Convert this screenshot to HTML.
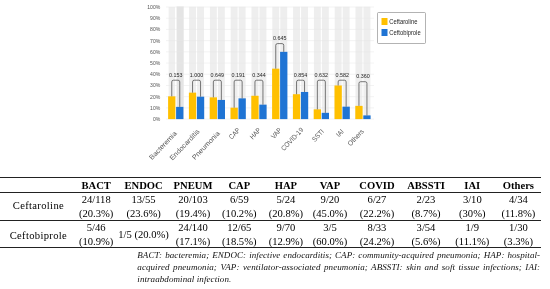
<!DOCTYPE html>
<html><head><meta charset="utf-8"><title>Figure</title>
<style>
html,body{margin:0;padding:0;background:#fff;}
body{width:550px;height:289px;position:relative;overflow:hidden;font-family:"Liberation Serif",serif;color:#000;}
.c{position:absolute;width:80px;height:14px;line-height:14px;text-align:center;font-size:10.6px;white-space:nowrap;}
.b{font-weight:bold;}
.hr{position:absolute;left:0;width:541px;background:#222;}
.rl{letter-spacing:0.33px;}
.fn{position:absolute;left:137.3px;width:402.9px;letter-spacing:0.08px;height:11.6px;font-size:9px;line-height:11.6px;font-style:italic;text-align:justify;text-align-last:justify;white-space:nowrap;color:#111;}
</style></head><body>
<svg width="550" height="175" viewBox="0 0 550 175" style="position:absolute;left:0;top:0" font-family="'Liberation Sans', sans-serif"><rect x="168.60" y="7.10" width="6.4" height="112.00" fill="#efefef"/><rect x="176.60" y="6.40" width="7.1" height="112.70" fill="#e4e4e4"/><rect x="189.10" y="6.80" width="6.9" height="112.30" fill="#eeeeee"/><rect x="197.10" y="6.80" width="6.9" height="112.30" fill="#eeeeee"/><rect x="209.90" y="6.80" width="6.9" height="112.30" fill="#eeeeee"/><rect x="217.90" y="6.80" width="6.9" height="112.30" fill="#eeeeee"/><rect x="230.70" y="6.80" width="6.9" height="112.30" fill="#eeeeee"/><rect x="238.70" y="6.80" width="6.9" height="112.30" fill="#eeeeee"/><rect x="251.50" y="6.80" width="6.9" height="112.30" fill="#eeeeee"/><rect x="259.50" y="6.80" width="6.9" height="112.30" fill="#eeeeee"/><rect x="272.30" y="6.80" width="6.9" height="112.30" fill="#eeeeee"/><rect x="280.30" y="6.80" width="6.9" height="112.30" fill="#eeeeee"/><rect x="293.10" y="6.80" width="6.9" height="112.30" fill="#eeeeee"/><rect x="301.10" y="6.80" width="6.9" height="112.30" fill="#eeeeee"/><rect x="313.90" y="6.80" width="6.9" height="112.30" fill="#eeeeee"/><rect x="321.90" y="6.80" width="6.9" height="112.30" fill="#eeeeee"/><rect x="334.70" y="6.80" width="6.9" height="112.30" fill="#eeeeee"/><rect x="342.70" y="6.80" width="6.9" height="112.30" fill="#eeeeee"/><rect x="355.50" y="6.80" width="6.9" height="112.30" fill="#eeeeee"/><rect x="363.50" y="6.80" width="6.9" height="112.30" fill="#eeeeee"/><line x1="166.0" x2="374.0" y1="119.10" y2="119.10" stroke="#e6e6e6" stroke-width="0.5"/><text transform="translate(160.30 121.10) scale(0.88 1)" font-size="5.8" fill="#555" text-anchor="end">0%</text><line x1="166.0" x2="374.0" y1="107.89" y2="107.89" stroke="#e6e6e6" stroke-width="0.5"/><text transform="translate(160.30 109.89) scale(0.88 1)" font-size="5.8" fill="#555" text-anchor="end">10%</text><line x1="166.0" x2="374.0" y1="96.68" y2="96.68" stroke="#e6e6e6" stroke-width="0.5"/><text transform="translate(160.30 98.68) scale(0.88 1)" font-size="5.8" fill="#555" text-anchor="end">20%</text><line x1="166.0" x2="374.0" y1="85.47" y2="85.47" stroke="#e6e6e6" stroke-width="0.5"/><text transform="translate(160.30 87.47) scale(0.88 1)" font-size="5.8" fill="#555" text-anchor="end">30%</text><line x1="166.0" x2="374.0" y1="74.26" y2="74.26" stroke="#e6e6e6" stroke-width="0.5"/><text transform="translate(160.30 76.26) scale(0.88 1)" font-size="5.8" fill="#555" text-anchor="end">40%</text><line x1="166.0" x2="374.0" y1="63.05" y2="63.05" stroke="#e6e6e6" stroke-width="0.5"/><text transform="translate(160.30 65.05) scale(0.88 1)" font-size="5.8" fill="#555" text-anchor="end">50%</text><line x1="166.0" x2="374.0" y1="51.84" y2="51.84" stroke="#e6e6e6" stroke-width="0.5"/><text transform="translate(160.30 53.84) scale(0.88 1)" font-size="5.8" fill="#555" text-anchor="end">60%</text><line x1="166.0" x2="374.0" y1="40.63" y2="40.63" stroke="#e6e6e6" stroke-width="0.5"/><text transform="translate(160.30 42.63) scale(0.88 1)" font-size="5.8" fill="#555" text-anchor="end">70%</text><line x1="166.0" x2="374.0" y1="29.42" y2="29.42" stroke="#e6e6e6" stroke-width="0.5"/><text transform="translate(160.30 31.42) scale(0.88 1)" font-size="5.8" fill="#555" text-anchor="end">80%</text><line x1="166.0" x2="374.0" y1="18.21" y2="18.21" stroke="#e6e6e6" stroke-width="0.5"/><text transform="translate(160.30 20.21) scale(0.88 1)" font-size="5.8" fill="#555" text-anchor="end">90%</text><line x1="166.0" x2="374.0" y1="7.00" y2="7.00" stroke="#e6e6e6" stroke-width="0.5"/><text transform="translate(160.30 9.00) scale(0.88 1)" font-size="5.8" fill="#555" text-anchor="end">100%</text><rect x="168.10" y="96.34" width="7.3" height="22.76" fill="#ffc000"/><rect x="176.10" y="106.88" width="7.3" height="12.22" fill="#1f74d4"/><path d="M171.75 96.34 V81.90 Q171.75 80.20 173.45 80.20 H178.05 Q179.75 80.20 179.75 81.90 V106.88" fill="none" stroke="#404040" stroke-width="0.7"/><text transform="translate(175.75 76.60) scale(0.9 1)" font-size="6" fill="#1f1f1f" text-anchor="middle">0.153</text><text transform="translate(177.25 133.80) rotate(-46.5) scale(1.035 1)" font-size="7" fill="#595959" text-anchor="end">Bacteremia</text><rect x="188.90" y="92.64" width="7.3" height="26.46" fill="#ffc000"/><rect x="196.90" y="96.68" width="7.3" height="22.42" fill="#1f74d4"/><path d="M192.55 92.64 V81.90 Q192.55 80.20 194.25 80.20 H198.85 Q200.55 80.20 200.55 81.90 V96.68" fill="none" stroke="#404040" stroke-width="0.7"/><text transform="translate(196.55 76.60) scale(0.9 1)" font-size="6" fill="#1f1f1f" text-anchor="middle">1.000</text><text transform="translate(200.05 131.80) rotate(-46.5) scale(1.04 1)" font-size="7" fill="#595959" text-anchor="end">Endocarditis</text><rect x="209.70" y="97.35" width="7.3" height="21.75" fill="#ffc000"/><rect x="217.70" y="99.93" width="7.3" height="19.17" fill="#1f74d4"/><path d="M213.35 97.35 V81.90 Q213.35 80.20 215.05 80.20 H219.65 Q221.35 80.20 221.35 81.90 V99.93" fill="none" stroke="#404040" stroke-width="0.7"/><text transform="translate(217.35 76.60) scale(0.9 1)" font-size="6" fill="#1f1f1f" text-anchor="middle">0.649</text><text transform="translate(220.15 133.80) rotate(-46.5) scale(1.035 1)" font-size="7" fill="#595959" text-anchor="end">Pneumonia</text><rect x="230.50" y="107.67" width="7.3" height="11.43" fill="#ffc000"/><rect x="238.50" y="98.36" width="7.3" height="20.74" fill="#1f74d4"/><path d="M234.15 107.67 V81.90 Q234.15 80.20 235.85 80.20 H240.45 Q242.15 80.20 242.15 81.90 V98.36" fill="none" stroke="#404040" stroke-width="0.7"/><text transform="translate(238.15 76.60) scale(0.9 1)" font-size="6" fill="#1f1f1f" text-anchor="middle">0.191</text><text transform="translate(240.55 130.60) rotate(-46.5) scale(0.88 1)" font-size="7" fill="#595959" text-anchor="end">CAP</text><rect x="251.30" y="95.78" width="7.3" height="23.32" fill="#ffc000"/><rect x="259.30" y="104.64" width="7.3" height="14.46" fill="#1f74d4"/><path d="M254.95 95.78 V81.90 Q254.95 80.20 256.65 80.20 H261.25 Q262.95 80.20 262.95 81.90 V104.64" fill="none" stroke="#404040" stroke-width="0.7"/><text transform="translate(258.95 76.60) scale(0.9 1)" font-size="6" fill="#1f1f1f" text-anchor="middle">0.344</text><text transform="translate(261.35 130.60) rotate(-46.5) scale(0.88 1)" font-size="7" fill="#595959" text-anchor="end">HAP</text><rect x="272.10" y="68.66" width="7.3" height="50.44" fill="#ffc000"/><rect x="280.10" y="51.84" width="7.3" height="67.26" fill="#1f74d4"/><path d="M275.75 68.66 V45.30 Q275.75 43.60 277.45 43.60 H282.05 Q283.75 43.60 283.75 45.30 V51.84" fill="none" stroke="#404040" stroke-width="0.7"/><text transform="translate(279.75 40.00) scale(0.9 1)" font-size="6" fill="#1f1f1f" text-anchor="middle">0.645</text><text transform="translate(282.15 130.60) rotate(-46.5) scale(0.88 1)" font-size="7" fill="#595959" text-anchor="end">VAP</text><rect x="292.90" y="94.21" width="7.3" height="24.89" fill="#ffc000"/><rect x="300.90" y="91.97" width="7.3" height="27.13" fill="#1f74d4"/><path d="M296.55 94.21 V81.90 Q296.55 80.20 298.25 80.20 H302.85 Q304.55 80.20 304.55 81.90 V91.97" fill="none" stroke="#404040" stroke-width="0.7"/><text transform="translate(300.55 76.60) scale(0.9 1)" font-size="6" fill="#1f1f1f" text-anchor="middle">0.854</text><text transform="translate(303.85 130.30) rotate(-46.5) scale(0.9 1)" font-size="7" fill="#595959" text-anchor="end">COVID-19</text><rect x="313.70" y="109.35" width="7.3" height="9.75" fill="#ffc000"/><rect x="321.70" y="112.82" width="7.3" height="6.28" fill="#1f74d4"/><path d="M317.35 109.35 V81.90 Q317.35 80.20 319.05 80.20 H323.65 Q325.35 80.20 325.35 81.90 V112.82" fill="none" stroke="#404040" stroke-width="0.7"/><text transform="translate(321.35 76.60) scale(0.9 1)" font-size="6" fill="#1f1f1f" text-anchor="middle">0.632</text><text transform="translate(324.55 132.00) rotate(-46.5) scale(0.9 1)" font-size="7" fill="#595959" text-anchor="end">SSTI</text><rect x="334.50" y="85.47" width="7.3" height="33.63" fill="#ffc000"/><rect x="342.50" y="106.66" width="7.3" height="12.44" fill="#1f74d4"/><path d="M338.15 85.47 V81.90 Q338.15 80.20 339.85 80.20 H344.45 Q346.15 80.20 346.15 81.90 V106.66" fill="none" stroke="#404040" stroke-width="0.7"/><text transform="translate(342.15 76.60) scale(0.9 1)" font-size="6" fill="#1f1f1f" text-anchor="middle">0.582</text><text transform="translate(344.25 132.00) rotate(-46.5) scale(0.9 1)" font-size="7" fill="#595959" text-anchor="end">IAI</text><rect x="355.30" y="105.87" width="7.3" height="13.23" fill="#ffc000"/><rect x="363.30" y="115.40" width="7.3" height="3.70" fill="#1f74d4"/><path d="M358.95 105.87 V83.40 Q358.95 81.70 360.65 81.70 H365.25 Q366.95 81.70 366.95 83.40 V115.40" fill="none" stroke="#404040" stroke-width="0.7"/><text transform="translate(362.95 78.10) scale(0.9 1)" font-size="6" fill="#1f1f1f" text-anchor="middle">0.360</text><text transform="translate(364.45 131.70) rotate(-46.5) scale(0.97 1)" font-size="7" fill="#595959" text-anchor="end">Others</text><rect x="377.5" y="12.5" width="48" height="31" rx="1" fill="#fff" stroke="#7f7f7f" stroke-width="0.6"/><rect x="381.5" y="18" width="6" height="7" fill="#ffc000"/><rect x="381.5" y="29" width="6" height="7" fill="#1f74d4"/><text transform="translate(389.20 23.90) scale(0.886 1)" font-size="6.6" fill="#262626" text-anchor="start">Ceftaroline</text><text transform="translate(389.20 34.70) scale(0.886 1)" font-size="6.6" fill="#262626" text-anchor="start">Ceftobiprole</text></svg>
<div class="hr" style="top:176.5px;height:1.2px"></div>
<div class="hr" style="top:191.6px;height:0.85px"></div>
<div class="hr" style="top:219.7px;height:0.6px"></div>
<div class="hr" style="top:247.0px;height:1.1px"></div>
<div class="c b" style="left:56.2px;top:179.2px">BACT</div><div class="c b" style="left:103.6px;top:179.2px">ENDOC</div><div class="c b" style="left:153.0px;top:179.2px">PNEUM</div><div class="c b" style="left:199.3px;top:179.2px">CAP</div><div class="c b" style="left:245.9px;top:179.2px">HAP</div><div class="c b" style="left:290.0px;top:179.2px">VAP</div><div class="c b" style="left:337.0px;top:179.2px">COVID</div><div class="c b" style="left:386.0px;top:179.2px">ABSSTI</div><div class="c b" style="left:432.3px;top:179.2px">IAI</div><div class="c b" style="left:478.4px;top:179.2px">Others</div><div class="c " style="left:56.2px;top:192.5px">24/118</div><div class="c " style="left:56.2px;top:206.8px">(20.3%)</div><div class="c " style="left:103.6px;top:192.5px">13/55</div><div class="c " style="left:103.6px;top:206.8px">(23.6%)</div><div class="c " style="left:153.0px;top:192.5px">20/103</div><div class="c " style="left:153.0px;top:206.8px">(19.4%)</div><div class="c " style="left:199.3px;top:192.5px">6/59</div><div class="c " style="left:199.3px;top:206.8px">(10.2%)</div><div class="c " style="left:245.9px;top:192.5px">5/24</div><div class="c " style="left:245.9px;top:206.8px">(20.8%)</div><div class="c " style="left:290.0px;top:192.5px">9/20</div><div class="c " style="left:290.0px;top:206.8px">(45.0%)</div><div class="c " style="left:337.0px;top:192.5px">6/27</div><div class="c " style="left:337.0px;top:206.8px">(22.2%)</div><div class="c " style="left:386.0px;top:192.5px">2/23</div><div class="c " style="left:386.0px;top:206.8px">(8.7%)</div><div class="c " style="left:432.3px;top:192.5px">3/10</div><div class="c " style="left:432.3px;top:206.8px">(30%)</div><div class="c " style="left:478.4px;top:192.5px">4/34</div><div class="c " style="left:478.4px;top:206.8px">(11.8%)</div><div class="c " style="left:56.2px;top:221.1px">5/46</div><div class="c " style="left:56.2px;top:235.3px">(10.9%)</div><div class="c " style="left:103.6px;top:228.2px">1/5 (20.0%)</div><div class="c " style="left:153.0px;top:221.1px">24/140</div><div class="c " style="left:153.0px;top:235.3px">(17.1%)</div><div class="c " style="left:199.3px;top:221.1px">12/65</div><div class="c " style="left:199.3px;top:235.3px">(18.5%)</div><div class="c " style="left:245.9px;top:221.1px">9/70</div><div class="c " style="left:245.9px;top:235.3px">(12.9%)</div><div class="c " style="left:290.0px;top:221.1px">3/5</div><div class="c " style="left:290.0px;top:235.3px">(60.0%)</div><div class="c " style="left:337.0px;top:221.1px">8/33</div><div class="c " style="left:337.0px;top:235.3px">(24.2%)</div><div class="c " style="left:386.0px;top:221.1px">3/54</div><div class="c " style="left:386.0px;top:235.3px">(5.6%)</div><div class="c " style="left:432.3px;top:221.1px">1/9</div><div class="c " style="left:432.3px;top:235.3px">(11.1%)</div><div class="c " style="left:478.4px;top:221.1px">1/30</div><div class="c " style="left:478.4px;top:235.3px">(3.3%)</div><div class="c rl" style="left:-1.6px;top:199.4px">Ceftaroline</div><div class="c rl" style="left:-1.6px;top:228.6px">Ceftobiprole</div>
<div class="fn" style="top:250.1px">BACT: bacteremia; ENDOC: infective endocarditis; CAP: community-acquired pneumonia; HAP: hospital-</div>
<div class="fn" style="top:261.6px">acquired pneumonia; VAP: ventilator-associated pneumonia; ABSSTI: skin and soft tissue infections; IAI:</div>
<div class="fn" style="top:273.9px;width:91.8px">intraabdominal infection.</div>
</body></html>
